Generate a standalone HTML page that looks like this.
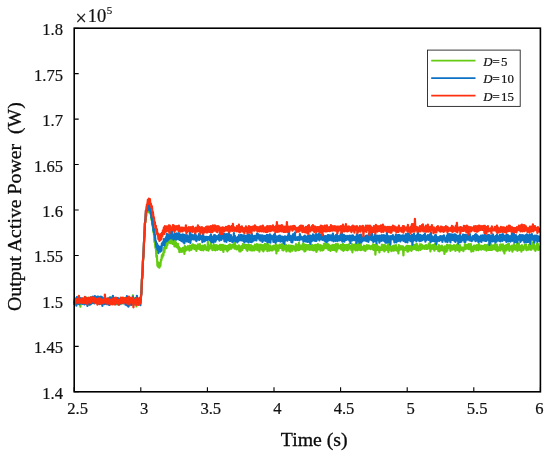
<!DOCTYPE html>
<html><head><meta charset="utf-8"><title>Output Active Power</title>
<style>html,body{margin:0;padding:0;background:#fff}body{width:550px;height:455px;overflow:hidden}</style>
</head><body>
<svg width="550" height="455" viewBox="0 0 550 455" style="display:block">
<rect width="550" height="455" fill="#fff"/>
<path d="M74.20,391.8v-4.5 M140.80,391.8v-4.5 M207.40,391.8v-4.5 M274.00,391.8v-4.5 M340.60,391.8v-4.5 M407.20,391.8v-4.5 M473.80,391.8v-4.5 M540.40,391.8v-4.5 M74.2,28.20h4.5 M74.2,73.65h4.5 M74.2,119.10h4.5 M74.2,164.55h4.5 M74.2,210.00h4.5 M74.2,255.45h4.5 M74.2,300.90h4.5 M74.2,346.35h4.5 M74.2,391.80h4.5" stroke="#000" stroke-width="1.1" fill="none"/>
<path d="M74.4,303.4 74.9,298.1 75.4,303.3 75.9,300.4 76.4,303.9 76.9,298.5 77.4,302.7 77.9,298.8 78.4,304.0 78.9,299.1 79.4,303.1 79.9,298.7 80.4,306.6 80.9,299.3 81.4,302.7 81.9,298.6 82.4,303.0 82.9,299.2 83.4,301.6 83.9,299.0 84.4,302.8 84.9,298.8 85.4,303.9 85.9,297.4 86.4,301.2 86.9,300.4 87.4,302.5 87.9,299.1 88.4,303.3 88.9,298.7 89.4,305.0 89.9,300.2 90.4,302.5 90.9,297.0 91.4,303.7 91.9,298.3 92.4,302.5 92.9,300.7 93.4,302.9 93.9,298.8 94.4,301.8 94.9,299.8 95.4,303.1 95.9,299.9 96.4,302.9 96.9,298.9 97.4,303.4 97.9,299.3 98.4,303.5 98.9,297.9 99.4,303.0 99.9,299.7 100.4,303.7 100.9,299.7 101.4,304.2 101.9,300.4 102.4,304.2 102.9,299.3 103.4,302.0 103.9,299.7 104.4,303.7 104.9,299.1 105.4,302.5 105.9,300.4 106.4,303.4 106.9,299.8 107.4,303.7 107.9,298.6 108.4,301.7 108.9,299.0 109.4,304.2 109.9,297.1 110.4,302.3 110.9,298.3 111.4,303.3 111.9,297.9 112.4,302.6 112.9,300.5 113.4,303.0 113.9,299.6 114.4,303.9 114.9,298.9 115.4,301.3 115.9,300.3 116.4,304.1 116.9,298.6 117.4,302.4 117.9,299.0 118.4,303.4 118.9,298.5 119.4,303.8 119.9,298.7 120.4,302.8 120.9,299.1 121.4,304.0 121.9,300.8 122.4,302.9 122.9,299.0 123.4,301.5 123.9,298.4 124.4,302.2 124.9,298.1 125.4,302.9 125.9,298.4 126.4,304.1 126.9,298.4 127.4,301.9 127.9,300.4 128.4,304.8 128.9,299.3 129.4,302.3 129.9,298.7 130.4,302.4 130.9,297.9 131.4,302.6 131.9,298.5 132.4,302.5 132.9,295.4 133.4,302.0 133.9,298.2 134.4,304.7 134.9,301.1 135.4,302.2 135.9,299.0 136.4,306.3 136.9,300.8 137.4,304.5 137.9,299.1 138.4,302.6 138.9,299.8 139.4,302.9 139.9,298.4 140.4,302.7 140.9,296.2 141.4,292.0 141.9,280.1 142.4,274.5 142.9,262.4 143.4,256.2 143.9,244.9 144.4,237.5 144.9,223.7 145.4,221.7 145.9,213.5 146.4,215.7 146.9,209.8 147.4,212.0 147.9,207.2 148.4,211.4 148.9,208.4 149.4,212.8 149.9,209.8 150.4,213.9 150.9,214.3 151.4,220.0 151.9,218.2 152.4,226.0 152.9,226.2 153.4,232.1 153.9,233.4 154.4,242.0 154.9,241.0 155.4,247.8 155.9,248.1 156.4,256.9 156.9,255.4 157.4,265.8 157.9,262.0 158.4,267.2 158.9,264.4 159.4,267.7 159.9,262.9 160.4,265.9 160.9,259.8 161.4,260.2 161.9,255.2 162.4,257.6 162.9,253.7 163.4,255.5 163.9,247.8 164.4,252.2 164.9,246.4 165.4,248.5 165.9,241.5 166.4,248.2 166.9,243.7 167.4,245.1 167.9,241.0 168.4,242.8 168.9,239.5 169.4,242.6 169.9,237.5 170.4,243.2 170.9,239.5 171.4,242.3 171.9,240.0 172.4,243.8 172.9,238.8 173.4,244.2 173.9,241.2 174.4,246.5 174.9,239.0 175.4,244.9 175.9,242.3 176.4,246.8 176.9,244.3 177.4,247.7 177.9,243.8 178.4,249.0 178.9,246.7 179.4,252.1 179.9,248.0 180.4,251.6 180.9,248.6 181.4,251.9 181.9,249.1 182.4,251.6 182.9,247.9 183.4,251.3 183.9,247.6 184.4,254.0 184.9,246.1 185.4,250.8 185.9,247.2 186.4,250.2 186.9,247.5 187.4,249.3 187.9,246.1 188.4,249.4 188.9,247.1 189.4,250.6 189.9,245.7 190.4,249.7 190.9,247.7 191.4,249.8 191.9,245.0 192.4,247.6 192.9,244.3 193.4,248.3 193.9,246.2 194.4,249.1 194.9,245.2 195.4,249.0 195.9,246.6 196.4,250.9 196.9,245.6 197.4,247.6 197.9,244.3 198.4,248.6 198.9,244.8 199.4,249.0 199.9,244.0 200.4,249.8 200.9,246.2 201.4,250.2 201.9,246.0 202.4,248.6 202.9,245.7 203.4,250.4 203.9,246.0 204.4,248.8 204.9,245.0 205.4,248.0 205.9,247.1 206.4,250.1 206.9,247.4 207.4,250.0 207.9,241.8 208.4,250.6 208.9,246.8 209.4,249.2 209.9,245.4 210.4,247.8 210.9,242.1 211.4,248.5 211.9,245.8 212.4,250.2 212.9,245.6 213.4,247.7 213.9,244.7 214.4,250.0 214.9,245.7 215.4,250.5 215.9,245.1 216.4,248.8 216.9,245.4 217.4,249.9 217.9,246.0 218.4,248.0 218.9,245.8 219.4,249.0 219.9,244.8 220.4,249.8 220.9,244.8 221.4,249.5 221.9,245.1 222.4,250.1 222.9,244.9 223.4,251.8 223.9,245.6 224.4,248.7 224.9,245.5 225.4,249.1 225.9,246.4 226.4,249.9 226.9,246.1 227.4,251.4 227.9,245.8 228.4,250.0 228.9,245.0 229.4,249.4 229.9,244.3 230.4,248.6 230.9,246.1 231.4,248.7 231.9,245.0 232.4,247.5 232.9,244.8 233.4,247.1 233.9,243.2 234.4,248.7 234.9,242.8 235.4,248.3 235.9,245.6 236.4,249.4 236.9,246.8 237.4,248.8 237.9,246.0 238.4,249.6 238.9,245.3 239.4,251.5 239.9,246.3 240.4,251.5 240.9,247.2 241.4,250.5 241.9,245.8 242.4,250.0 242.9,244.0 243.4,247.8 243.9,245.1 244.4,248.0 244.9,244.5 245.4,248.2 245.9,246.2 246.4,249.7 246.9,244.8 247.4,250.9 247.9,246.4 248.4,249.0 248.9,244.7 249.4,249.4 249.9,247.1 250.4,250.2 250.9,245.0 251.4,250.4 251.9,246.0 252.4,250.5 252.9,246.6 253.4,250.1 253.9,246.1 254.4,250.4 254.9,244.5 255.4,248.7 255.9,245.4 256.4,249.4 256.9,244.1 257.4,250.1 257.9,246.6 258.4,249.9 258.9,244.6 259.4,251.6 259.9,247.5 260.4,249.4 260.9,244.7 261.4,248.6 261.9,247.2 262.4,250.4 262.9,245.1 263.4,251.5 263.9,245.3 264.4,249.7 264.9,243.8 265.4,249.3 265.9,244.2 266.4,248.1 266.9,245.3 267.4,251.1 267.9,244.1 268.4,250.3 268.9,246.3 269.4,250.6 269.9,245.4 270.4,249.9 270.9,246.4 271.4,250.4 271.9,248.3 272.4,250.5 272.9,246.2 273.4,249.5 273.9,245.7 274.4,249.1 274.9,246.9 275.4,249.9 275.9,244.3 276.4,253.4 276.9,245.4 277.4,251.0 277.9,245.4 278.4,250.7 278.9,246.5 279.4,247.6 279.9,244.5 280.4,248.0 280.9,245.7 281.4,248.0 281.9,244.2 282.4,250.1 282.9,246.1 283.4,250.5 283.9,245.4 284.4,249.3 284.9,245.3 285.4,249.1 285.9,244.9 286.4,251.4 286.9,245.9 287.4,250.4 287.9,246.3 288.4,249.9 288.9,245.3 289.4,251.4 289.9,246.6 290.4,251.6 290.9,245.5 291.4,249.6 291.9,246.5 292.4,250.6 292.9,245.8 293.4,248.8 293.9,247.0 294.4,249.3 294.9,246.3 295.4,250.8 295.9,244.2 296.4,250.4 296.9,245.0 297.4,249.0 297.9,245.2 298.4,250.1 298.9,242.9 299.4,249.8 299.9,245.4 300.4,249.1 300.9,245.6 301.4,248.3 301.9,245.5 302.4,249.5 302.9,243.6 303.4,249.5 303.9,244.2 304.4,251.3 304.9,245.5 305.4,251.1 305.9,244.9 306.4,249.3 306.9,245.2 307.4,249.3 307.9,245.3 308.4,249.0 308.9,245.1 309.4,249.8 309.9,246.2 310.4,249.6 310.9,247.1 311.4,249.7 311.9,244.8 312.4,249.9 312.9,245.4 313.4,250.4 313.9,246.5 314.4,249.5 314.9,245.0 315.4,250.5 315.9,244.9 316.4,252.0 316.9,245.4 317.4,250.4 317.9,244.1 318.4,249.1 318.9,246.1 319.4,248.2 319.9,245.2 320.4,250.6 320.9,245.4 321.4,249.9 321.9,246.2 322.4,250.3 322.9,247.3 323.4,250.0 323.9,243.9 324.4,248.5 324.9,243.6 325.4,248.0 325.9,246.3 326.4,248.0 326.9,244.2 327.4,248.5 327.9,244.0 328.4,249.8 328.9,244.8 329.4,247.7 329.9,245.6 330.4,251.0 330.9,246.7 331.4,248.6 331.9,245.4 332.4,250.0 332.9,244.9 333.4,249.9 333.9,246.3 334.4,250.2 334.9,244.9 335.4,247.9 335.9,243.8 336.4,251.6 336.9,246.3 337.4,249.6 337.9,244.1 338.4,248.1 338.9,247.5 339.4,248.1 339.9,245.7 340.4,248.6 340.9,244.8 341.4,249.6 341.9,246.5 342.4,249.9 342.9,243.8 343.4,250.9 343.9,244.8 344.4,250.0 344.9,245.1 345.4,249.1 345.9,245.4 346.4,250.0 346.9,244.9 347.4,250.3 347.9,246.7 348.4,249.7 348.9,244.3 349.4,248.3 349.9,246.0 350.4,248.6 350.9,246.9 351.4,250.2 351.9,244.0 352.4,252.3 352.9,245.0 353.4,249.3 353.9,244.9 354.4,248.7 354.9,244.5 355.4,250.5 355.9,243.3 356.4,248.5 356.9,244.6 357.4,250.5 357.9,243.3 358.4,249.3 358.9,247.2 359.4,249.7 359.9,243.5 360.4,250.1 360.9,244.9 361.4,249.9 361.9,247.9 362.4,248.0 362.9,247.0 363.4,249.7 363.9,245.6 364.4,250.5 364.9,246.2 365.4,250.8 365.9,246.1 366.4,249.3 366.9,245.1 367.4,249.1 367.9,247.1 368.4,248.6 368.9,245.4 369.4,248.5 369.9,246.0 370.4,249.1 370.9,246.7 371.4,247.8 371.9,245.9 372.4,249.0 372.9,244.3 373.4,249.9 373.9,245.6 374.4,248.9 374.9,244.9 375.4,254.7 375.9,245.5 376.4,250.2 376.9,244.1 377.4,249.9 377.9,246.4 378.4,248.8 378.9,246.8 379.4,252.4 379.9,247.4 380.4,249.8 380.9,247.3 381.4,249.9 381.9,244.7 382.4,249.5 382.9,245.0 383.4,250.4 383.9,245.3 384.4,251.5 384.9,245.2 385.4,250.1 385.9,247.0 386.4,249.5 386.9,246.0 387.4,250.1 387.9,243.6 388.4,252.1 388.9,246.6 389.4,250.0 389.9,244.5 390.4,248.1 390.9,246.6 391.4,251.2 391.9,247.1 392.4,249.4 392.9,246.2 393.4,250.7 393.9,245.6 394.4,250.4 394.9,245.6 395.4,250.2 395.9,245.0 396.4,249.3 396.9,247.3 397.4,251.1 397.9,247.8 398.4,253.5 398.9,245.0 399.4,250.1 399.9,246.5 400.4,248.8 400.9,246.2 401.4,249.5 401.9,246.5 402.4,248.6 402.9,246.3 403.4,255.5 403.9,247.8 404.4,249.6 404.9,247.6 405.4,249.9 405.9,246.6 406.4,247.9 406.9,245.8 407.4,251.7 407.9,245.9 408.4,251.4 408.9,246.3 409.4,248.5 409.9,246.0 410.4,249.9 410.9,247.6 411.4,250.9 411.9,245.8 412.4,249.5 412.9,245.2 413.4,248.9 413.9,245.1 414.4,249.0 414.9,245.1 415.4,248.8 415.9,244.4 416.4,250.1 416.9,244.2 417.4,249.0 417.9,246.0 418.4,250.3 418.9,246.8 419.4,248.2 419.9,244.4 420.4,249.9 420.9,244.4 421.4,249.0 421.9,244.8 422.4,248.6 422.9,246.8 423.4,247.8 423.9,245.9 424.4,248.9 424.9,245.8 425.4,248.7 425.9,245.2 426.4,248.9 426.9,245.3 427.4,248.9 427.9,246.6 428.4,248.1 428.9,243.7 429.4,248.4 429.9,244.2 430.4,251.5 430.9,245.5 431.4,249.0 431.9,245.4 432.4,248.3 432.9,245.2 433.4,249.2 433.9,244.8 434.4,250.6 434.9,243.8 435.4,249.2 435.9,244.8 436.4,249.0 436.9,246.5 437.4,249.2 437.9,246.7 438.4,251.0 438.9,245.1 439.4,251.3 439.9,246.0 440.4,250.3 440.9,246.7 441.4,249.0 441.9,245.7 442.4,250.3 442.9,247.2 443.4,250.5 443.9,247.6 444.4,254.0 444.9,246.4 445.4,249.0 445.9,246.5 446.4,251.7 446.9,244.8 447.4,250.4 447.9,245.0 448.4,248.0 448.9,245.8 449.4,248.1 449.9,245.2 450.4,251.0 450.9,245.5 451.4,248.9 451.9,245.9 452.4,249.7 452.9,247.1 453.4,249.5 453.9,245.1 454.4,248.9 454.9,245.6 455.4,250.8 455.9,246.2 456.4,248.7 456.9,244.7 457.4,249.8 457.9,244.1 458.4,248.9 458.9,247.8 459.4,251.7 459.9,245.1 460.4,249.3 460.9,247.4 461.4,249.9 461.9,247.6 462.4,249.5 462.9,247.5 463.4,251.2 463.9,247.5 464.4,249.3 464.9,244.0 465.4,249.1 465.9,244.8 466.4,248.6 466.9,246.2 467.4,247.8 467.9,244.5 468.4,249.2 468.9,244.0 469.4,248.3 469.9,245.8 470.4,249.6 470.9,244.2 471.4,251.6 471.9,246.5 472.4,248.5 472.9,247.4 473.4,251.1 473.9,245.7 474.4,248.9 474.9,245.5 475.4,248.1 475.9,247.1 476.4,250.2 476.9,245.2 477.4,249.6 477.9,246.7 478.4,250.2 478.9,243.9 479.4,248.5 479.9,246.1 480.4,249.3 480.9,245.6 481.4,249.7 481.9,246.1 482.4,248.8 482.9,245.8 483.4,249.1 483.9,245.9 484.4,249.6 484.9,244.8 485.4,248.7 485.9,245.8 486.4,250.6 486.9,245.1 487.4,249.1 487.9,244.7 488.4,249.8 488.9,245.5 489.4,249.8 489.9,246.9 490.4,250.0 490.9,244.2 491.4,250.0 491.9,247.2 492.4,249.7 492.9,245.4 493.4,249.2 493.9,245.5 494.4,248.2 494.9,244.3 495.4,249.6 495.9,245.2 496.4,250.5 496.9,244.6 497.4,251.2 497.9,247.2 498.4,250.5 498.9,247.4 499.4,249.2 499.9,244.9 500.4,250.4 500.9,244.3 501.4,248.9 501.9,245.1 502.4,249.5 502.9,244.4 503.4,251.3 503.9,246.2 504.4,253.4 504.9,245.8 505.4,249.5 505.9,245.3 506.4,250.5 506.9,244.9 507.4,248.9 507.9,244.2 508.4,249.4 508.9,243.9 509.4,250.9 509.9,246.7 510.4,248.5 510.9,246.4 511.4,249.6 511.9,245.7 512.4,251.6 512.9,246.5 513.4,249.9 513.9,244.2 514.4,248.2 514.9,245.6 515.4,249.6 515.9,245.8 516.4,249.5 516.9,243.9 517.4,250.9 517.9,244.6 518.4,248.8 518.9,243.3 519.4,250.0 519.9,246.1 520.4,249.3 520.9,246.1 521.4,251.7 521.9,245.2 522.4,249.3 522.9,247.2 523.4,250.0 523.9,246.4 524.4,248.0 524.9,244.7 525.4,248.3 525.9,244.3 526.4,250.2 526.9,247.1 527.4,249.5 527.9,247.2 528.4,249.7 528.9,244.9 529.4,248.4 529.9,243.9 530.4,249.6 530.9,247.1 531.4,249.7 531.9,245.0 532.4,248.3 532.9,242.4 533.4,248.1 533.9,244.3 534.4,249.7 534.9,246.0 535.4,250.9 535.9,246.7 536.4,248.9 536.9,243.5 537.4,249.3 537.9,244.2 538.4,249.9 538.9,246.4 539.4,249.4 539.9,245.7" fill="none" stroke="#64cc10" stroke-width="2.2" stroke-linejoin="round"/>
<path d="M74.4,303.7 74.9,299.3 75.4,303.0 75.9,300.6 76.4,305.7 76.9,297.2 77.4,302.9 77.9,297.7 78.4,303.7 78.9,299.1 79.4,304.4 79.9,297.9 80.4,302.9 80.9,299.1 81.4,303.5 81.9,298.4 82.4,303.8 82.9,299.0 83.4,303.2 83.9,299.6 84.4,304.3 84.9,298.1 85.4,303.7 85.9,298.3 86.4,302.4 86.9,297.9 87.4,306.0 87.9,300.8 88.4,301.4 88.9,300.4 89.4,304.4 89.9,298.2 90.4,304.4 90.9,297.6 91.4,303.5 91.9,297.9 92.4,302.8 92.9,296.6 93.4,301.7 93.9,298.6 94.4,303.3 94.9,296.0 95.4,302.1 95.9,299.4 96.4,302.0 96.9,296.9 97.4,302.4 97.9,296.5 98.4,300.7 98.9,296.8 99.4,304.2 99.9,300.0 100.4,303.4 100.9,296.7 101.4,303.2 101.9,297.1 102.4,305.9 102.9,298.0 103.4,302.8 103.9,299.3 104.4,304.1 104.9,298.6 105.4,302.8 105.9,298.6 106.4,304.1 106.9,299.7 107.4,301.7 107.9,299.8 108.4,304.7 108.9,298.3 109.4,305.0 109.9,298.2 110.4,302.2 110.9,297.6 111.4,302.8 111.9,299.8 112.4,302.0 112.9,295.9 113.4,303.5 113.9,297.5 114.4,302.6 114.9,299.2 115.4,304.5 115.9,298.4 116.4,302.1 116.9,298.3 117.4,301.8 117.9,298.1 118.4,304.3 118.9,299.4 119.4,304.7 119.9,299.0 120.4,303.3 120.9,299.5 121.4,303.0 121.9,298.5 122.4,303.0 122.9,299.5 123.4,302.8 123.9,299.9 124.4,302.1 124.9,299.6 125.4,304.6 125.9,298.2 126.4,305.0 126.9,296.2 127.4,305.6 127.9,300.1 128.4,306.7 128.9,300.8 129.4,305.3 129.9,300.4 130.4,304.2 130.9,301.4 131.4,304.9 131.9,299.2 132.4,304.3 132.9,296.6 133.4,304.1 133.9,298.6 134.4,302.6 134.9,299.0 135.4,303.5 135.9,297.9 136.4,304.5 136.9,295.8 137.4,302.9 137.9,299.6 138.4,302.1 138.9,299.5 139.4,303.5 139.9,297.8 140.4,305.2 140.9,297.3 141.4,293.5 141.9,279.5 142.4,277.9 142.9,260.6 143.4,256.4 143.9,243.2 144.4,236.4 144.9,222.9 145.4,219.8 145.9,210.7 146.4,211.9 146.9,206.7 147.4,210.1 147.9,203.7 148.4,210.2 148.9,204.0 149.4,208.8 149.9,206.0 150.4,212.0 150.9,211.1 151.4,217.9 151.9,216.6 152.4,224.3 152.9,221.3 153.4,230.7 153.9,228.6 154.4,234.3 154.9,234.7 155.4,240.8 155.9,241.1 156.4,246.9 156.9,243.4 157.4,249.6 157.9,245.4 158.4,253.2 158.9,247.5 159.4,251.2 159.9,246.7 160.4,251.6 160.9,246.5 161.4,250.7 161.9,243.3 162.4,245.5 162.9,242.0 163.4,244.5 163.9,239.0 164.4,245.3 164.9,240.2 165.4,242.1 165.9,237.3 166.4,241.1 166.9,233.9 167.4,240.7 167.9,234.8 168.4,239.6 168.9,236.3 169.4,238.6 169.9,232.2 170.4,237.4 170.9,232.1 171.4,238.3 171.9,230.7 172.4,238.0 172.9,234.4 173.4,239.6 173.9,235.3 174.4,238.5 174.9,233.6 175.4,239.0 175.9,234.3 176.4,239.7 176.9,233.3 177.4,236.9 177.9,236.7 178.4,238.9 178.9,233.2 179.4,240.0 179.9,235.4 180.4,240.0 180.9,234.6 181.4,241.1 181.9,235.3 182.4,239.1 182.9,234.4 183.4,242.4 183.9,237.4 184.4,243.3 184.9,234.9 185.4,240.1 185.9,238.1 186.4,241.4 186.9,235.0 187.4,239.8 187.9,236.9 188.4,241.8 188.9,236.2 189.4,239.8 189.9,232.1 190.4,242.9 190.9,234.4 191.4,239.7 191.9,234.7 192.4,238.1 192.9,235.4 193.4,239.4 193.9,237.3 194.4,238.4 194.9,233.8 195.4,240.0 195.9,235.1 196.4,241.2 196.9,236.3 197.4,238.9 197.9,237.5 198.4,239.6 198.9,234.1 199.4,239.9 199.9,234.7 200.4,239.0 200.9,236.0 201.4,239.1 201.9,236.9 202.4,242.1 202.9,234.2 203.4,239.1 203.9,236.3 204.4,241.3 204.9,237.0 205.4,240.6 205.9,236.8 206.4,239.8 206.9,236.8 207.4,240.0 207.9,237.2 208.4,238.8 208.9,237.0 209.4,239.9 209.9,236.1 210.4,240.9 210.9,234.3 211.4,242.0 211.9,236.6 212.4,241.9 212.9,237.2 213.4,242.6 213.9,235.3 214.4,239.3 214.9,235.1 215.4,241.7 215.9,237.4 216.4,239.8 216.9,236.2 217.4,238.0 217.9,236.8 218.4,239.1 218.9,234.9 219.4,240.7 219.9,232.4 220.4,239.8 220.9,231.8 221.4,239.8 221.9,234.5 222.4,238.2 222.9,237.0 223.4,238.6 223.9,233.8 224.4,241.3 224.9,234.1 225.4,240.2 225.9,235.9 226.4,241.9 226.9,234.0 227.4,240.0 227.9,235.9 228.4,239.5 228.9,232.7 229.4,241.0 229.9,235.7 230.4,240.9 230.9,235.1 231.4,240.1 231.9,237.1 232.4,242.1 232.9,237.6 233.4,241.0 233.9,233.1 234.4,238.9 234.9,235.9 235.4,241.5 235.9,237.5 236.4,241.1 236.9,237.5 237.4,242.4 237.9,236.9 238.4,240.9 238.9,235.2 239.4,240.3 239.9,238.1 240.4,240.1 240.9,234.8 241.4,240.5 241.9,235.3 242.4,239.0 242.9,235.4 243.4,241.2 243.9,235.4 244.4,242.5 244.9,235.7 245.4,238.9 245.9,237.2 246.4,241.4 246.9,235.5 247.4,241.5 247.9,235.0 248.4,242.4 248.9,234.3 249.4,240.1 249.9,235.4 250.4,241.8 250.9,237.2 251.4,242.2 251.9,234.1 252.4,241.6 252.9,235.9 253.4,240.7 253.9,236.9 254.4,240.1 254.9,235.9 255.4,240.1 255.9,235.8 256.4,240.4 256.9,233.8 257.4,238.3 257.9,234.1 258.4,237.5 258.9,237.1 259.4,239.6 259.9,235.1 260.4,240.6 260.9,237.4 261.4,240.1 261.9,235.3 262.4,241.9 262.9,235.5 263.4,240.7 263.9,236.6 264.4,240.0 264.9,235.8 265.4,241.0 265.9,236.6 266.4,239.5 266.9,234.8 267.4,242.4 267.9,235.1 268.4,241.1 268.9,236.2 269.4,242.1 269.9,234.4 270.4,242.7 270.9,235.3 271.4,239.0 271.9,236.2 272.4,239.2 272.9,237.0 273.4,241.8 273.9,234.7 274.4,238.9 274.9,233.5 275.4,242.8 275.9,237.2 276.4,241.6 276.9,236.4 277.4,240.0 277.9,238.4 278.4,240.9 278.9,235.8 279.4,239.4 279.9,235.5 280.4,241.6 280.9,236.6 281.4,241.1 281.9,236.5 282.4,240.1 282.9,236.8 283.4,242.8 283.9,238.2 284.4,243.9 284.9,236.3 285.4,240.5 285.9,236.8 286.4,239.1 286.9,236.8 287.4,240.6 287.9,235.4 288.4,239.4 288.9,231.9 289.4,239.8 289.9,235.5 290.4,240.2 290.9,236.1 291.4,242.1 291.9,236.4 292.4,242.3 292.9,234.4 293.4,239.3 293.9,234.2 294.4,239.7 294.9,232.5 295.4,240.0 295.9,237.3 296.4,238.5 296.9,237.4 297.4,240.0 297.9,237.1 298.4,239.5 298.9,236.9 299.4,240.4 299.9,234.1 300.4,238.9 300.9,236.4 301.4,239.4 301.9,237.7 302.4,239.1 302.9,237.1 303.4,241.6 303.9,236.4 304.4,240.5 304.9,235.5 305.4,241.4 305.9,236.6 306.4,241.5 306.9,237.5 307.4,241.9 307.9,235.6 308.4,240.2 308.9,237.1 309.4,242.1 309.9,235.3 310.4,243.9 310.9,236.1 311.4,241.3 311.9,235.8 312.4,240.7 312.9,234.4 313.4,239.2 313.9,235.6 314.4,240.6 314.9,235.4 315.4,240.9 315.9,234.2 316.4,241.0 316.9,234.7 317.4,239.4 317.9,236.5 318.4,238.8 318.9,233.7 319.4,240.5 319.9,235.5 320.4,238.5 320.9,234.5 321.4,239.2 321.9,236.3 322.4,239.8 322.9,234.7 323.4,238.5 323.9,237.0 324.4,240.7 324.9,236.0 325.4,241.5 325.9,236.2 326.4,242.1 326.9,236.4 327.4,241.6 327.9,235.1 328.4,240.3 328.9,235.2 329.4,240.2 329.9,236.7 330.4,239.7 330.9,235.3 331.4,240.5 331.9,236.7 332.4,239.5 332.9,233.6 333.4,241.3 333.9,236.0 334.4,239.8 334.9,237.5 335.4,240.9 335.9,235.2 336.4,238.8 336.9,234.3 337.4,241.2 337.9,236.9 338.4,239.9 338.9,236.2 339.4,240.3 339.9,235.5 340.4,238.0 340.9,233.3 341.4,240.3 341.9,231.6 342.4,241.6 342.9,235.7 343.4,240.8 343.9,234.8 344.4,241.7 344.9,236.2 345.4,240.0 345.9,235.9 346.4,239.9 346.9,236.9 347.4,238.5 347.9,235.8 348.4,239.5 348.9,236.5 349.4,240.7 349.9,235.5 350.4,243.2 350.9,236.0 351.4,239.2 351.9,235.6 352.4,240.3 352.9,235.4 353.4,239.8 353.9,236.9 354.4,240.1 354.9,236.8 355.4,238.5 355.9,236.6 356.4,243.0 356.9,234.3 357.4,240.3 357.9,236.6 358.4,241.5 358.9,235.3 359.4,242.7 359.9,235.1 360.4,240.8 360.9,234.5 361.4,242.7 361.9,236.5 362.4,241.0 362.9,238.0 363.4,240.4 363.9,237.1 364.4,240.5 364.9,236.5 365.4,240.4 365.9,235.9 366.4,241.1 366.9,235.5 367.4,239.6 367.9,237.0 368.4,241.8 368.9,233.8 369.4,239.7 369.9,234.8 370.4,238.5 370.9,237.2 371.4,240.0 371.9,231.6 372.4,240.6 372.9,236.6 373.4,242.2 373.9,237.7 374.4,240.8 374.9,234.5 375.4,239.9 375.9,235.3 376.4,243.2 376.9,236.9 377.4,240.1 377.9,235.7 378.4,239.5 378.9,237.2 379.4,242.7 379.9,235.7 380.4,238.5 380.9,236.5 381.4,241.0 381.9,235.0 382.4,238.5 382.9,235.6 383.4,240.6 383.9,235.2 384.4,240.8 384.9,237.8 385.4,242.6 385.9,235.5 386.4,242.6 386.9,232.6 387.4,240.7 387.9,237.9 388.4,242.1 388.9,236.2 389.4,240.1 389.9,237.0 390.4,244.5 390.9,236.2 391.4,238.8 391.9,236.1 392.4,239.2 392.9,235.2 393.4,239.7 393.9,237.0 394.4,242.3 394.9,236.6 395.4,241.7 395.9,234.6 396.4,242.4 396.9,236.8 397.4,240.8 397.9,235.1 398.4,240.8 398.9,234.9 399.4,240.4 399.9,235.4 400.4,241.3 400.9,236.5 401.4,239.9 401.9,235.6 402.4,239.5 402.9,235.3 403.4,240.8 403.9,235.6 404.4,239.5 404.9,236.1 405.4,242.2 405.9,234.1 406.4,238.7 406.9,236.1 407.4,242.4 407.9,233.3 408.4,240.2 408.9,234.0 409.4,238.8 409.9,235.8 410.4,241.2 410.9,237.9 411.4,241.3 411.9,234.8 412.4,244.6 412.9,236.5 413.4,240.9 413.9,233.5 414.4,239.5 414.9,237.0 415.4,240.2 415.9,235.8 416.4,241.4 416.9,235.1 417.4,239.1 417.9,232.5 418.4,239.9 418.9,235.1 419.4,241.2 419.9,234.8 420.4,240.8 420.9,235.3 421.4,240.7 421.9,236.5 422.4,240.1 422.9,235.6 423.4,239.5 423.9,234.9 424.4,239.4 424.9,233.5 425.4,241.7 425.9,237.2 426.4,239.9 426.9,236.1 427.4,238.5 427.9,235.0 428.4,239.8 428.9,236.0 429.4,239.6 429.9,234.4 430.4,242.1 430.9,232.4 431.4,241.5 431.9,236.2 432.4,240.8 432.9,237.0 433.4,240.8 433.9,237.1 434.4,241.5 434.9,235.4 435.4,241.5 435.9,235.0 436.4,244.2 436.9,238.7 437.4,241.1 437.9,237.0 438.4,240.6 438.9,237.9 439.4,240.9 439.9,236.3 440.4,239.8 440.9,236.1 441.4,239.9 441.9,237.7 442.4,241.9 442.9,236.1 443.4,239.3 443.9,235.3 444.4,239.7 444.9,237.9 445.4,241.6 445.9,237.7 446.4,240.3 446.9,235.5 447.4,242.1 447.9,233.9 448.4,240.5 448.9,236.5 449.4,239.7 449.9,234.1 450.4,242.3 450.9,235.0 451.4,239.7 451.9,234.4 452.4,239.9 452.9,236.1 453.4,239.9 453.9,234.7 454.4,240.8 454.9,234.4 455.4,241.9 455.9,234.8 456.4,238.1 456.9,237.5 457.4,240.6 457.9,235.9 458.4,243.4 458.9,235.9 459.4,240.3 459.9,234.6 460.4,242.1 460.9,236.4 461.4,241.7 461.9,237.7 462.4,240.0 462.9,234.7 463.4,239.2 463.9,234.9 464.4,241.8 464.9,235.3 465.4,242.0 465.9,234.9 466.4,238.3 466.9,236.9 467.4,239.7 467.9,234.8 468.4,239.4 468.9,237.0 469.4,240.3 469.9,234.2 470.4,238.7 470.9,237.2 471.4,241.1 471.9,237.9 472.4,240.7 472.9,236.0 473.4,238.3 473.9,236.2 474.4,239.4 474.9,234.8 475.4,241.1 475.9,234.1 476.4,240.7 476.9,235.0 477.4,240.3 477.9,236.2 478.4,242.1 478.9,238.3 479.4,241.4 479.9,236.7 480.4,240.8 480.9,235.6 481.4,241.9 481.9,235.8 482.4,240.1 482.9,235.3 483.4,240.4 483.9,235.7 484.4,240.7 484.9,234.7 485.4,240.8 485.9,235.7 486.4,240.9 486.9,235.9 487.4,238.6 487.9,235.2 488.4,240.0 488.9,234.9 489.4,244.8 489.9,236.5 490.4,242.4 490.9,235.6 491.4,240.0 491.9,237.0 492.4,241.4 492.9,234.3 493.4,241.2 493.9,237.7 494.4,239.6 494.9,236.5 495.4,242.7 495.9,235.9 496.4,241.7 496.9,234.7 497.4,240.6 497.9,236.0 498.4,240.3 498.9,237.8 499.4,240.9 499.9,234.7 500.4,241.3 500.9,236.5 501.4,239.3 501.9,234.6 502.4,241.0 502.9,234.0 503.4,239.6 503.9,235.5 504.4,239.9 504.9,235.8 505.4,240.4 505.9,235.4 506.4,241.8 506.9,234.9 507.4,238.5 507.9,235.0 508.4,241.4 508.9,237.4 509.4,240.0 509.9,236.1 510.4,241.6 510.9,236.7 511.4,239.0 511.9,233.6 512.4,240.8 512.9,232.8 513.4,239.0 513.9,232.7 514.4,242.4 514.9,235.2 515.4,242.2 515.9,235.2 516.4,241.4 516.9,236.6 517.4,242.4 517.9,236.9 518.4,238.5 518.9,236.0 519.4,239.7 519.9,234.8 520.4,241.9 520.9,235.8 521.4,240.6 521.9,235.2 522.4,238.4 522.9,235.3 523.4,240.5 523.9,235.5 524.4,242.4 524.9,237.8 525.4,240.0 525.9,235.2 526.4,242.1 526.9,234.3 527.4,242.0 527.9,235.1 528.4,241.8 528.9,236.0 529.4,241.3 529.9,234.7 530.4,243.8 530.9,235.5 531.4,238.9 531.9,234.0 532.4,239.5 532.9,235.8 533.4,240.2 533.9,237.0 534.4,242.6 534.9,235.5 535.4,240.2 535.9,235.9 536.4,240.4 536.9,235.5 537.4,241.8 537.9,237.1 538.4,240.2 538.9,236.4 539.4,240.9 539.9,236.9" fill="none" stroke="#0c72c4" stroke-width="2.2" stroke-linejoin="round"/>
<path d="M74.4,305.1 74.9,300.5 75.4,303.5 75.9,299.6 76.4,302.7 76.9,299.2 77.4,301.1 77.9,299.4 78.4,302.4 78.9,295.9 79.4,303.2 79.9,299.3 80.4,302.5 80.9,299.3 81.4,301.4 81.9,298.8 82.4,303.0 82.9,298.3 83.4,303.2 83.9,298.4 84.4,302.4 84.9,296.9 85.4,303.1 85.9,299.4 86.4,302.6 86.9,298.1 87.4,304.5 87.9,298.8 88.4,302.1 88.9,297.5 89.4,301.6 89.9,298.6 90.4,303.0 90.9,297.5 91.4,302.2 91.9,297.5 92.4,301.1 92.9,297.3 93.4,301.5 93.9,299.9 94.4,302.7 94.9,297.9 95.4,302.2 95.9,299.8 96.4,302.8 96.9,299.1 97.4,304.6 97.9,298.6 98.4,303.5 98.9,298.4 99.4,303.1 99.9,300.2 100.4,303.7 100.9,298.7 101.4,303.0 101.9,299.8 102.4,303.0 102.9,300.3 103.4,303.5 103.9,298.4 104.4,301.3 104.9,294.6 105.4,302.4 105.9,298.5 106.4,301.4 106.9,300.3 107.4,304.0 107.9,298.3 108.4,301.5 108.9,299.5 109.4,303.6 109.9,299.9 110.4,304.3 110.9,299.9 111.4,303.1 111.9,299.7 112.4,304.3 112.9,298.6 113.4,302.0 113.9,300.4 114.4,304.4 114.9,298.1 115.4,303.7 115.9,297.7 116.4,303.2 116.9,299.4 117.4,302.2 117.9,299.8 118.4,304.6 118.9,300.3 119.4,302.3 119.9,299.3 120.4,303.2 120.9,297.5 121.4,301.7 121.9,300.7 122.4,302.7 122.9,297.5 123.4,303.5 123.9,298.5 124.4,302.4 124.9,298.3 125.4,302.4 125.9,297.8 126.4,301.9 126.9,298.7 127.4,303.8 127.9,298.5 128.4,303.3 128.9,296.5 129.4,304.8 129.9,297.6 130.4,301.1 130.9,299.6 131.4,302.5 131.9,298.3 132.4,300.9 132.9,297.5 133.4,307.3 133.9,300.0 134.4,301.6 134.9,299.5 135.4,302.8 135.9,298.1 136.4,305.0 136.9,299.4 137.4,304.0 137.9,299.1 138.4,304.9 138.9,298.3 139.4,304.5 139.9,300.1 140.4,302.8 140.9,297.3 141.4,293.9 141.9,278.8 142.4,274.6 142.9,262.0 143.4,256.6 143.9,243.8 144.4,236.6 144.9,223.3 145.4,222.1 145.9,210.5 146.4,209.9 146.9,204.7 147.4,204.3 147.9,199.6 148.4,204.0 148.9,198.7 149.4,203.1 149.9,199.2 150.4,204.5 150.9,203.6 151.4,207.6 151.9,206.2 152.4,212.1 152.9,211.8 153.4,217.1 153.9,217.1 154.4,223.9 154.9,222.1 155.4,228.0 155.9,225.7 156.4,233.4 156.9,229.2 157.4,234.7 157.9,233.3 158.4,239.1 158.9,236.0 159.4,240.9 159.9,234.6 160.4,240.2 160.9,234.2 161.4,239.0 161.9,232.8 162.4,235.9 162.9,230.3 163.4,233.8 163.9,227.4 164.4,233.9 164.9,226.2 165.4,231.9 165.9,228.0 166.4,231.4 166.9,226.3 167.4,230.1 167.9,226.5 168.4,230.9 168.9,225.3 169.4,233.4 169.9,225.7 170.4,230.0 170.9,227.3 171.4,229.7 171.9,227.3 172.4,230.2 172.9,225.0 173.4,230.3 173.9,225.6 174.4,231.8 174.9,226.0 175.4,230.5 175.9,226.9 176.4,229.1 176.9,226.1 177.4,229.2 177.9,226.4 178.4,231.0 178.9,225.7 179.4,230.9 179.9,227.9 180.4,231.7 180.9,227.7 181.4,231.0 181.9,227.5 182.4,231.4 182.9,227.8 183.4,230.7 183.9,227.9 184.4,229.8 184.9,227.8 185.4,230.8 185.9,225.3 186.4,233.2 186.9,229.9 187.4,231.9 187.9,227.8 188.4,230.8 188.9,227.2 189.4,231.2 189.9,229.3 190.4,231.0 190.9,227.2 191.4,231.4 191.9,228.5 192.4,232.0 192.9,226.5 193.4,230.4 193.9,228.2 194.4,231.5 194.9,228.3 195.4,233.5 195.9,227.5 196.4,230.7 196.9,228.5 197.4,231.5 197.9,225.3 198.4,230.9 198.9,226.9 199.4,231.6 199.9,227.3 200.4,233.7 200.9,228.0 201.4,232.0 201.9,227.2 202.4,232.2 202.9,228.8 203.4,233.8 203.9,228.1 204.4,232.1 204.9,228.8 205.4,230.9 205.9,227.0 206.4,232.5 206.9,226.6 207.4,232.4 207.9,226.6 208.4,231.3 208.9,226.5 209.4,231.9 209.9,227.5 210.4,232.0 210.9,226.1 211.4,231.8 211.9,227.9 212.4,232.2 212.9,225.4 213.4,230.9 213.9,227.0 214.4,230.6 214.9,225.4 215.4,228.8 215.9,226.2 216.4,231.6 216.9,227.2 217.4,232.2 217.9,226.2 218.4,230.4 218.9,226.7 219.4,229.6 219.9,227.5 220.4,234.0 220.9,228.0 221.4,233.1 221.9,227.5 222.4,234.0 222.9,227.3 223.4,229.5 223.9,227.9 224.4,231.3 224.9,228.2 225.4,229.8 225.9,226.9 226.4,230.4 226.9,228.9 227.4,230.6 227.9,226.3 228.4,230.6 228.9,225.9 229.4,232.3 229.9,226.7 230.4,229.7 230.9,228.0 231.4,230.7 231.9,225.8 232.4,231.0 232.9,223.9 233.4,230.5 233.9,227.0 234.4,230.9 234.9,227.8 235.4,230.2 235.9,229.1 236.4,231.3 236.9,226.2 237.4,230.3 237.9,226.9 238.4,231.3 238.9,224.5 239.4,232.3 239.9,227.9 240.4,231.9 240.9,226.8 241.4,230.4 241.9,226.3 242.4,230.8 242.9,228.4 243.4,232.2 243.9,228.2 244.4,233.2 244.9,228.6 245.4,230.8 245.9,226.4 246.4,231.0 246.9,227.7 247.4,233.3 247.9,227.5 248.4,231.5 248.9,226.1 249.4,232.4 249.9,228.1 250.4,231.9 250.9,226.8 251.4,233.4 251.9,227.5 252.4,230.2 252.9,226.5 253.4,230.5 253.9,226.4 254.4,230.6 254.9,225.3 255.4,229.7 255.9,226.5 256.4,229.1 256.9,227.3 257.4,231.7 257.9,227.0 258.4,229.9 258.9,228.0 259.4,231.4 259.9,226.7 260.4,229.9 260.9,226.4 261.4,231.4 261.9,226.4 262.4,231.0 262.9,225.5 263.4,231.6 263.9,227.4 264.4,230.8 264.9,227.5 265.4,231.9 265.9,227.4 266.4,231.9 266.9,226.3 267.4,232.0 267.9,226.1 268.4,231.1 268.9,228.9 269.4,231.2 269.9,226.2 270.4,231.1 270.9,226.4 271.4,230.6 271.9,227.4 272.4,229.9 272.9,225.4 273.4,230.7 273.9,227.1 274.4,229.3 274.9,226.9 275.4,232.3 275.9,226.0 276.4,229.9 276.9,222.0 277.4,232.0 277.9,225.9 278.4,231.7 278.9,225.6 279.4,231.4 279.9,226.0 280.4,230.0 280.9,225.7 281.4,231.5 281.9,225.2 282.4,229.3 282.9,226.4 283.4,232.0 283.9,227.5 284.4,231.8 284.9,226.6 285.4,231.8 285.9,227.5 286.4,230.7 286.9,222.1 287.4,232.1 287.9,226.8 288.4,230.9 288.9,226.6 289.4,231.7 289.9,227.4 290.4,229.1 290.9,226.4 291.4,229.4 291.9,227.0 292.4,230.7 292.9,226.0 293.4,229.5 293.9,225.9 294.4,228.9 294.9,226.4 295.4,229.5 295.9,228.5 296.4,232.1 296.9,227.9 297.4,230.6 297.9,227.8 298.4,231.6 298.9,227.1 299.4,231.3 299.9,226.1 300.4,230.4 300.9,225.5 301.4,230.5 301.9,225.8 302.4,232.1 302.9,225.8 303.4,231.4 303.9,227.7 304.4,232.2 304.9,228.0 305.4,232.5 305.9,226.8 306.4,230.9 306.9,227.7 307.4,233.4 307.9,225.9 308.4,233.8 308.9,225.2 309.4,231.1 309.9,228.8 310.4,231.4 310.9,227.3 311.4,230.0 311.9,226.1 312.4,229.2 312.9,225.1 313.4,231.0 313.9,228.4 314.4,232.1 314.9,226.4 315.4,229.7 315.9,228.5 316.4,231.8 316.9,227.2 317.4,229.8 317.9,227.2 318.4,231.1 318.9,227.3 319.4,232.0 319.9,226.5 320.4,232.6 320.9,225.5 321.4,231.6 321.9,226.0 322.4,235.2 322.9,226.7 323.4,230.2 323.9,226.4 324.4,231.2 324.9,225.6 325.4,231.5 325.9,226.8 326.4,231.5 326.9,225.3 327.4,231.1 327.9,227.1 328.4,230.9 328.9,227.5 329.4,231.2 329.9,226.9 330.4,231.0 330.9,225.0 331.4,230.3 331.9,226.7 332.4,230.6 332.9,226.2 333.4,229.8 333.9,227.3 334.4,230.5 334.9,226.1 335.4,230.7 335.9,227.1 336.4,230.1 336.9,226.6 337.4,233.4 337.9,226.6 338.4,231.1 338.9,226.5 339.4,229.8 339.9,226.9 340.4,230.1 340.9,226.1 341.4,233.1 341.9,227.4 342.4,231.7 342.9,224.6 343.4,230.5 343.9,226.3 344.4,231.3 344.9,226.3 345.4,229.9 345.9,224.1 346.4,231.2 346.9,226.4 347.4,231.5 347.9,227.5 348.4,231.0 348.9,226.4 349.4,230.4 349.9,227.5 350.4,230.6 350.9,227.0 351.4,232.2 351.9,226.3 352.4,230.7 352.9,225.7 353.4,230.0 353.9,227.0 354.4,232.7 354.9,226.3 355.4,229.2 355.9,227.7 356.4,230.2 356.9,226.1 357.4,233.4 357.9,227.4 358.4,231.6 358.9,227.9 359.4,231.2 359.9,226.2 360.4,231.6 360.9,226.9 361.4,230.3 361.9,226.6 362.4,230.7 362.9,225.8 363.4,236.4 363.9,227.9 364.4,229.3 364.9,227.4 365.4,231.1 365.9,225.6 366.4,231.9 366.9,227.5 367.4,230.0 367.9,225.5 368.4,229.7 368.9,226.1 369.4,235.1 369.9,225.7 370.4,232.0 370.9,226.7 371.4,232.6 371.9,228.7 372.4,231.9 372.9,227.6 373.4,231.9 373.9,226.0 374.4,231.0 374.9,227.9 375.4,233.7 375.9,224.8 376.4,231.5 376.9,227.6 377.4,231.7 377.9,226.0 378.4,230.2 378.9,227.9 379.4,231.0 379.9,226.0 380.4,228.7 380.9,225.4 381.4,232.2 381.9,226.3 382.4,231.3 382.9,224.5 383.4,231.8 383.9,227.5 384.4,230.4 384.9,226.7 385.4,230.6 385.9,228.2 386.4,231.4 386.9,227.2 387.4,230.8 387.9,226.9 388.4,231.8 388.9,227.2 389.4,230.5 389.9,226.8 390.4,232.7 390.9,227.6 391.4,232.6 391.9,226.9 392.4,230.6 392.9,225.7 393.4,230.5 393.9,226.4 394.4,230.7 394.9,226.7 395.4,230.0 395.9,228.1 396.4,232.3 396.9,227.3 397.4,231.5 397.9,228.0 398.4,232.0 398.9,225.7 399.4,230.6 399.9,227.7 400.4,230.6 400.9,228.3 401.4,231.6 401.9,227.7 402.4,231.6 402.9,226.1 403.4,232.6 403.9,226.1 404.4,230.9 404.9,227.8 405.4,229.8 405.9,227.6 406.4,229.0 406.9,227.4 407.4,231.5 407.9,224.9 408.4,231.6 408.9,227.5 409.4,231.5 409.9,227.6 410.4,233.5 410.9,226.7 411.4,231.6 411.9,224.2 412.4,231.6 412.9,224.2 413.4,231.0 413.9,227.0 414.4,231.6 414.9,218.9 415.4,230.4 415.9,226.7 416.4,229.3 416.9,227.1 417.4,232.0 417.9,227.5 418.4,230.6 418.9,228.4 419.4,231.5 419.9,226.2 420.4,231.3 420.9,226.7 421.4,229.7 421.9,225.2 422.4,230.6 422.9,224.3 423.4,231.5 423.9,228.6 424.4,230.9 424.9,227.1 425.4,231.6 425.9,225.7 426.4,231.7 426.9,229.2 427.4,231.1 427.9,224.7 428.4,231.6 428.9,228.7 429.4,229.7 429.9,226.9 430.4,231.5 430.9,227.3 431.4,229.5 431.9,225.2 432.4,229.9 432.9,227.5 433.4,233.1 433.9,227.3 434.4,231.4 434.9,228.4 435.4,232.5 435.9,228.4 436.4,232.5 436.9,226.8 437.4,230.1 437.9,226.1 438.4,229.7 438.9,227.8 439.4,231.1 439.9,227.6 440.4,231.6 440.9,226.5 441.4,231.1 441.9,226.9 442.4,230.8 442.9,227.5 443.4,231.8 443.9,227.3 444.4,231.5 444.9,227.1 445.4,230.3 445.9,226.1 446.4,229.9 446.9,226.8 447.4,232.4 447.9,227.4 448.4,231.1 448.9,228.5 449.4,230.3 449.9,228.4 450.4,230.7 450.9,227.5 451.4,231.2 451.9,225.8 452.4,231.8 452.9,226.7 453.4,231.3 453.9,227.7 454.4,230.6 454.9,229.1 455.4,231.1 455.9,225.6 456.4,231.6 456.9,222.8 457.4,232.5 457.9,227.3 458.4,230.2 458.9,228.2 459.4,230.2 459.9,227.3 460.4,233.1 460.9,227.0 461.4,229.9 461.9,227.7 462.4,230.8 462.9,228.7 463.4,230.9 463.9,225.8 464.4,230.7 464.9,226.1 465.4,229.3 465.9,228.7 466.4,232.3 466.9,225.7 467.4,229.4 467.9,226.9 468.4,234.4 468.9,226.8 469.4,231.7 469.9,227.7 470.4,231.6 470.9,227.2 471.4,231.2 471.9,229.0 472.4,229.9 472.9,227.6 473.4,229.1 473.9,226.4 474.4,231.1 474.9,226.3 475.4,229.9 475.9,226.2 476.4,231.6 476.9,227.4 477.4,231.6 477.9,226.1 478.4,230.9 478.9,225.5 479.4,230.2 479.9,225.8 480.4,230.0 480.9,227.6 481.4,229.6 481.9,226.1 482.4,229.9 482.9,226.7 483.4,230.0 483.9,225.9 484.4,233.0 484.9,225.8 485.4,233.2 485.9,226.9 486.4,233.7 486.9,227.4 487.4,229.9 487.9,226.0 488.4,231.3 488.9,228.5 489.4,230.6 489.9,228.9 490.4,230.9 490.9,228.0 491.4,233.4 491.9,226.4 492.4,229.3 492.9,228.4 493.4,230.3 493.9,228.6 494.4,230.5 494.9,226.9 495.4,230.1 495.9,227.8 496.4,231.6 496.9,225.7 497.4,232.8 497.9,227.4 498.4,232.3 498.9,228.3 499.4,231.7 499.9,228.3 500.4,231.8 500.9,226.8 501.4,230.2 501.9,227.5 502.4,232.0 502.9,227.4 503.4,230.8 503.9,227.3 504.4,232.1 504.9,228.6 505.4,231.9 505.9,227.8 506.4,232.9 506.9,226.5 507.4,229.9 507.9,228.9 508.4,231.1 508.9,225.7 509.4,230.8 509.9,225.9 510.4,230.4 510.9,228.5 511.4,231.9 511.9,227.0 512.4,231.6 512.9,228.4 513.4,231.4 513.9,228.0 514.4,232.3 514.9,228.0 515.4,230.8 515.9,228.0 516.4,232.4 516.9,227.2 517.4,230.6 517.9,228.4 518.4,230.2 518.9,225.6 519.4,229.2 519.9,227.6 520.4,231.3 520.9,225.4 521.4,230.8 521.9,224.7 522.4,231.4 522.9,225.5 523.4,230.7 523.9,225.2 524.4,231.1 524.9,225.7 525.4,230.4 525.9,226.3 526.4,229.8 526.9,228.5 527.4,231.9 527.9,228.1 528.4,231.6 528.9,228.1 529.4,232.6 529.9,226.6 530.4,229.5 530.9,226.6 531.4,231.6 531.9,227.5 532.4,231.0 532.9,224.4 533.4,231.4 533.9,226.5 534.4,230.1 534.9,226.0 535.4,229.4 535.9,227.8 536.4,230.2 536.9,228.1 537.4,232.9 537.9,227.0 538.4,230.2 538.9,228.3 539.4,231.7 539.9,227.9" fill="none" stroke="#ff3010" stroke-width="2.2" stroke-linejoin="round"/>
<rect x="74.2" y="28.2" width="466.2" height="363.6" fill="none" stroke="#000" stroke-width="1.6"/>
<g font-family="'Liberation Serif', serif" font-size="16.6" fill="#111" stroke="#111" stroke-width="0.2">
<text x="77.6" y="413.9" text-anchor="middle">2.5</text>
<text x="144.2" y="413.9" text-anchor="middle">3</text>
<text x="210.8" y="413.9" text-anchor="middle">3.5</text>
<text x="277.4" y="413.9" text-anchor="middle">4</text>
<text x="344.0" y="413.9" text-anchor="middle">4.5</text>
<text x="410.6" y="413.9" text-anchor="middle">5</text>
<text x="477.2" y="413.9" text-anchor="middle">5.5</text>
<text x="539.4" y="413.9" text-anchor="middle">6</text>
<text x="63" y="35.1" text-anchor="end">1.8</text>
<text x="63" y="80.6" text-anchor="end">1.75</text>
<text x="63" y="126.0" text-anchor="end">1.7</text>
<text x="63" y="171.5" text-anchor="end">1.65</text>
<text x="63" y="216.9" text-anchor="end">1.6</text>
<text x="63" y="262.3" text-anchor="end">1.55</text>
<text x="63" y="307.8" text-anchor="end">1.5</text>
<text x="63" y="353.2" text-anchor="end">1.45</text>
<text x="63" y="398.7" text-anchor="end">1.4</text>
<text x="75.6" y="25.2" font-size="18.5"><tspan font-size="20">×</tspan><tspan dx="0.9" dy="-3">10</tspan><tspan font-size="11" dy="-8.2" dx="0.4">5</tspan></text>
</g>
<g font-family="'Liberation Serif', serif" font-size="19.8" fill="#0a0a0a" stroke="#0a0a0a" stroke-width="0.3">
<text x="314.2" y="445.8" text-anchor="middle">Time (s)</text>
<text transform="translate(20.9,206.6) rotate(-90)" text-anchor="middle" xml:space="preserve">Output Active Power  (W)</text>
</g>
<rect x="427.5" y="50.1" width="92.7" height="56.3" fill="#fff" stroke="#222" stroke-width="0.9"/>
<path d="M431.2,60.7H475.5" stroke="#64cc10" stroke-width="1.7"/>
<text x="483.3" y="65.6" font-family="'Liberation Serif', serif" font-size="12.9" fill="#111" stroke="#111" stroke-width="0.2"><tspan font-style="italic">D</tspan>=<tspan dx="1.2">5</tspan></text>
<path d="M431.2,78.2H475.5" stroke="#0c72c4" stroke-width="1.7"/>
<text x="483.3" y="83.1" font-family="'Liberation Serif', serif" font-size="12.9" fill="#111" stroke="#111" stroke-width="0.2"><tspan font-style="italic">D</tspan>=<tspan dx="1.2">10</tspan></text>
<path d="M431.2,95.6H475.5" stroke="#ff3010" stroke-width="1.7"/>
<text x="483.3" y="100.5" font-family="'Liberation Serif', serif" font-size="12.9" fill="#111" stroke="#111" stroke-width="0.2"><tspan font-style="italic">D</tspan>=<tspan dx="1.2">15</tspan></text>
</svg>
</body></html>
